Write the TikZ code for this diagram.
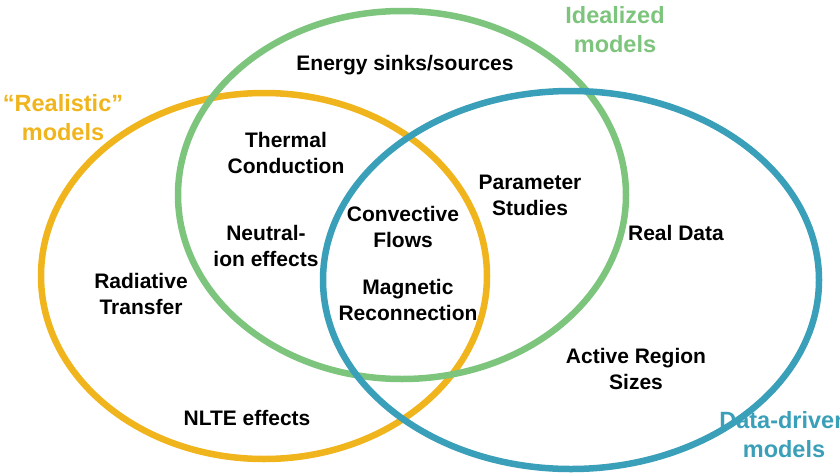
\documentclass[tikz,border=0pt]{standalone}
\usepackage{fontspec}
\setmainfont{Liberation Sans}
\definecolor{cg}{HTML}{7DC47D}
\definecolor{co}{HTML}{F0B41C}
\definecolor{cb}{HTML}{3A9FB8}
\begin{document}
\begin{tikzpicture}[x=1pt,y=-1pt,
  ring/.style={line width=6.5pt},
  lab/.style={align=center,font=\fontsize{21}{26}\selectfont\bfseries,inner sep=0},
  big/.style={align=center,font=\fontsize{23.5}{29}\selectfont\bfseries,inner sep=0}]
\useasboundingbox (0,0) rectangle (840,474);
\draw[ring,co] (264,276) ellipse [x radius=223, y radius=183];
\draw[ring,cg] (402,195) ellipse [x radius=224, y radius=184];
\draw[ring,cb] (571,280) ellipse [x radius=248, y radius=189];
\node[big,cg] (ti) at (615,30) {Idealized\\models};
\node[big,co] (tr) at (63,118) {“Realistic”\\models};
\node[big,cb] (td) at (784,435) {Data-driven\\models};
\node[lab] (a) at (405,65) {Energy sinks/sources};
\node[lab] (b) at (286,153) {Thermal\\Conduction};
\node[lab] (c) at (530,195) {Parameter\\Studies};
\node[lab] (d) at (403,227) {Convective\\Flows};
\node[lab] (e) at (676,233) {Real Data};
\node[lab] (f) at (266,246) {Neutral-\\ion effects};
\node[lab] (g) at (141,294) {Radiative\\Transfer};
\node[lab] (h) at (408,300) {Magnetic\\Reconnection};
\node[lab] (i) at (636,369) {Active Region\\Sizes};
\node[lab] (j) at (247,418) {NLTE effects};
\end{tikzpicture}
\end{document}
